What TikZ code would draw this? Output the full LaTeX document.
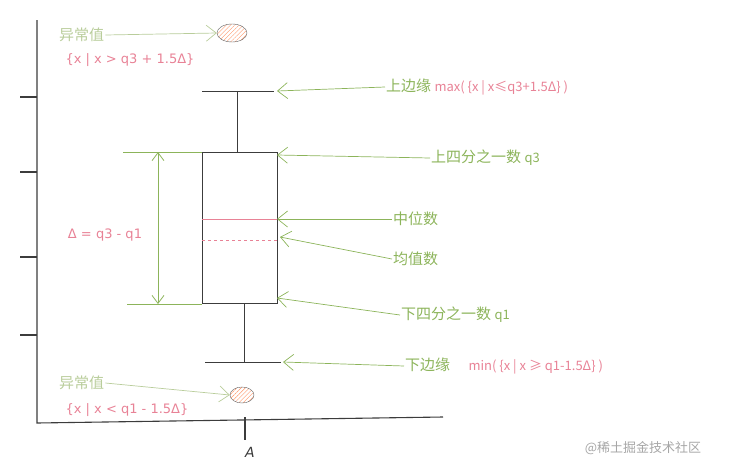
\documentclass[tikz,border=0pt]{standalone}
\usepackage{fontspec}
\setmainfont{DejaVu Sans}
\newfontfamily\cjk{Noto Sans CJK SC}
\usetikzlibrary{arrows.meta,patterns,patterns.meta,shapes.geometric}
\definecolor{gr}{RGB}{140,180,90}
\definecolor{lgr}{RGB}{185,205,155}
\definecolor{pk}{RGB}{232,130,150}
\definecolor{dk}{RGB}{60,60,60}
\tikzset{
  ax/.style={draw=dk,line width=1.1pt},
  bx/.style={draw=dk,line width=1pt},
  ga/.style={draw=gr,line width=0.7pt,-{Straight Barb[length=10pt,width=16pt]}},
  la/.style={draw=lgr,line width=0.7pt,-{Straight Barb[length=10pt,width=16pt]}},
  glab/.style={text=gr,font=\cjk\fontsize{15}{17}\selectfont,anchor=west,inner sep=1pt},
  plab/.style={text=pk,font=\fontsize{13}{15}\selectfont,inner sep=1pt},
  outl/.style={draw=dk!80,pattern={Lines[angle=45,distance=3pt]},pattern color=red!40!orange!60},
}
\begin{document}
\begin{tikzpicture}[x=1pt,y=-1pt]
\useasboundingbox (0,0) rectangle (731,472);
% axes
\coordinate (yt) at (37,20); \coordinate (o) at (37,423); \coordinate (xe) at (443,417);
\draw[ax] (yt) -- (o) -- (xe);
\foreach \y in {97,172,257,335} \draw[ax] (20,\y) -- (37,\y);
\draw[ax] (245,417) -- (245,440);
\node[font=\itshape\fontsize{14}{16}\selectfont,text=dk] (A) at (250,452) {A};
% box
\node[bx,minimum width=75pt,minimum height=151pt,inner sep=0pt] (box) at (239.5,227.5) {};
\coordinate (capT1) at (202,91); \coordinate (capT2) at (274,91);
\coordinate (capB1) at (205,362); \coordinate (capB2) at (281,362);
\draw[bx] (capT1) -- (capT2); \draw[bx] (237,91) -- (237,152);
\draw[bx] (capB1) -- (capB2); \draw[bx] (244,303) -- (244,362);
\draw[pk,line width=0.9pt] (202,219) -- (277,219);
\draw[pk,line width=0.9pt,dashed] (202,240) -- (277,240);
% outliers
\node[outl,ellipse,minimum width=30pt,minimum height=18pt,inner sep=0pt] (o1) at (232,33) {};
\node[outl,ellipse,minimum width=24pt,minimum height=16pt,inner sep=0pt] (o2) at (242,395) {};
% delta
\draw[gr,line width=0.8pt] (123,152) -- (202,152);
\draw[gr,line width=0.8pt] (127,304) -- (202,304);
\draw[gr,line width=0.8pt,{Straight Barb[length=8pt,width=12pt]}-{Straight Barb[length=8pt,width=12pt]}] (158,152) -- (158,304);
\node[plab] (d) at (105,235) {Δ = q3 - q1};
% labels
\node[glab] (l1) at (385,87) {上边缘 \textcolor{pk}{\fontsize{13}{15}\selectfont max( \{x | x≤q3+1.5Δ\} )}};
\node[glab] (l2) at (430,158) {上四分之一数 \fontsize{13}{15}\selectfont q3};
\node[glab] (l3) at (392,219) {中位数};
\node[glab] (l4) at (392,259) {均值数};
\node[glab] (l5) at (400,315) {下四分之一数 \fontsize{13}{15}\selectfont q1};
\node[glab] (l6) at (404,366) {下边缘 \quad\textcolor{pk}{\fontsize{13}{15}\selectfont min( \{x | x ≥ q1-1.5Δ\} )}};
\draw[ga] (l1.west) -- (277,91);
\draw[ga] (l2.west) -- (277,155);
\draw[ga] (l3.west) -- (277,219);
\draw[ga] (l4.west) -- (280,237);
\draw[ga] (l5.west) -- (277,298);
\draw[ga] (l6.west) -- (283,362);
% outlier labels
\node[glab,text=lgr] (u1) at (58,35) {异常值};
\node[plab] (u2) at (130,60) {\{x | x > q3 + 1.5Δ\}};
\draw[la] (u1.east) -- (o1.west);
\node[glab,text=lgr] (u3) at (58,383) {异常值};
\node[plab] (u4) at (127,410) {\{x | x < q1 - 1.5Δ\}};
\draw[la] (u3.east) -- (o2.west);
\node[text=gray!70,font=\cjk\fontsize{13}{15}\selectfont] (wm) at (643,448) {@稀土掘金技术社区};
\end{tikzpicture}
\end{document}
